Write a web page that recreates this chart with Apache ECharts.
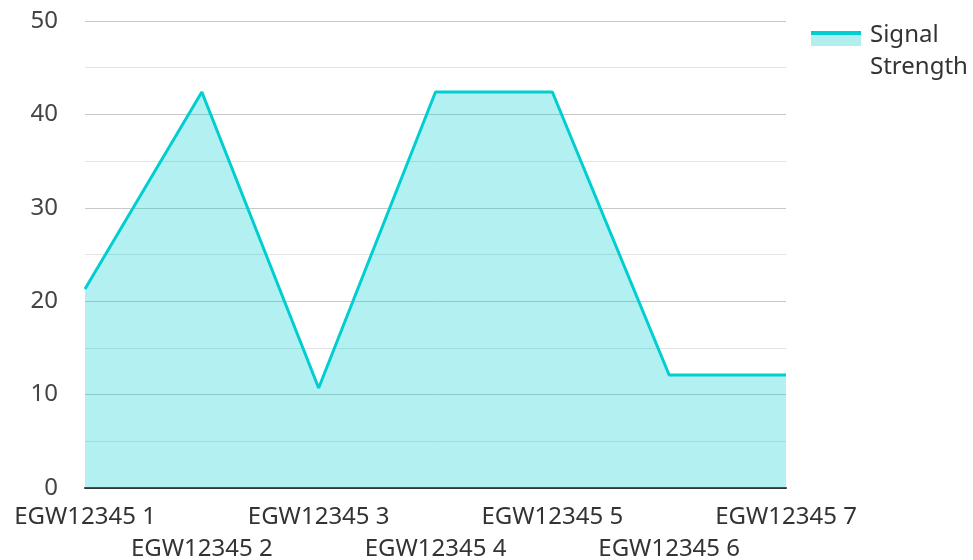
<!DOCTYPE html>
<html><head><meta charset="utf-8">
<script src="https://cdn.jsdelivr.net/npm/echarts@6/dist/echarts.min.js"></script>
<style>html,body{margin:0;padding:0;background:#fff}#c{width:973px;height:560px}</style>
</head><body><div id="c"></div>
<script>
const categories = ['EGW12345 1','EGW12345 2','EGW12345 3','EGW12345 4','EGW12345 5','EGW12345 6','EGW12345 7'];
const signalStrength = [21.3, 42.4, 10.7, 42.4, 42.4, 12.1, 12.1];
const seriesName = 'Signal\nStrength';
const lineColor = '#00CED1';
const FONT = 'Noto Sans';
const chart = echarts.init(document.getElementById('c'), null, {renderer:'canvas'});
chart.setOption({
  animation: false,
  textStyle: {fontFamily: FONT},
  grid: {left: 85, right: 187, top: 21, bottom: 72, containLabel: false, outerBoundsMode: 'none'},
  legend: {
    left: 806, top: 11, orient: 'vertical',
    icon: 'rect', itemWidth: 50, itemHeight: 64, itemGap: 10,
    itemStyle: {color: new echarts.graphic.LinearGradient(0,0,0,1,[
      {offset:0,color:'rgba(0,0,0,0)'},{offset:0.187,color:'rgba(0,0,0,0)'},
      {offset:0.187,color:lineColor},{offset:0.25,color:lineColor},
      {offset:0.25,color:'#b3eeee'},{offset:0.422,color:'#b3eeee'},
      {offset:0.422,color:'rgba(0,0,0,0)'},{offset:1,color:'rgba(0,0,0,0)'}])},
    textStyle: {fontSize: 24, color: '#333', lineHeight: 32, fontFamily: FONT, padding: [6,0,0,4]},
    data: [seriesName]
  },
  xAxis: {
    type: 'category', data: categories, boundaryGap: false,
    axisLine: {lineStyle: {color: '#333', width: 2}},
    axisTick: {show: false},
    axisLabel: {
      fontSize: 24, color: '#333', margin: 13, lineHeight: 32, interval: 0,
      formatter: (v, i) => (i % 2 === 1 ? '\n' + v : v)
    },
    splitLine: {show: false}
  },
  yAxis: {
    type: 'value', min: 0, max: 50, interval: 10,
    axisLine: {show: false}, axisTick: {show: false},
    axisLabel: {fontSize: 24, color: '#444', margin: 27},
    splitLine: {lineStyle: {color: '#c8c8c8', width: 1}},
    minorTick: {show: false, splitNumber: 2},
    minorSplitLine: {show: true, lineStyle: {color: '#e3e3e3', width: 1}}
  },
  series: [{
    name: seriesName, type: 'line', data: signalStrength,
    symbol: 'none',
    lineStyle: {color: lineColor, width: 3},
    itemStyle: {color: lineColor},
    areaStyle: {color: lineColor, opacity: 0.3}
  }]
});
</script></body></html>
